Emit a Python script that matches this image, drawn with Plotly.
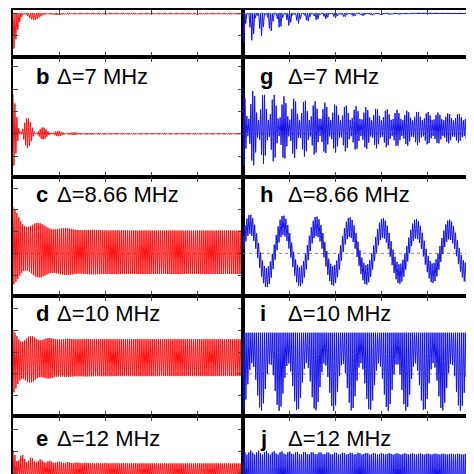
import numpy as np
import plotly.graph_objects as go

W = H = 474
panel_letters = ["a", "b", "c", "d", "e", "f", "g", "h", "i", "j"]
detunings = ["", "Δ=7 MHz", "Δ=8.66 MHz", "Δ=10 MHz", "Δ=12 MHz",
             "", "Δ=7 MHz", "Δ=8.66 MHz", "Δ=10 MHz", "Δ=12 MHz"]
colors = ["#ff1010"] * 5 + ["#1414e6"] * 5
# signal envelope parameters (per panel)
top_fixed = [0.0, None, None, None, None, 0.0, None, None, 1.9, None]
center = [0.0, 0.0, 0.05, 0.75, 1.1, 0.0, 0.25, 0.1, 0.0, 1.0]
center_tr = [0.0, 0.1, 0.3, -0.2, 0.1, 0.0, 0.0, 0.0, 0.0, 0.0]
amp_ss = [0.02, 0.02, 1.0, 0.85, 0.35, 0.0, 0.35, 0.45, 0.7, 0.85]
amp_tr = [0.85, 1.65, 0.8, 0.6, 0.5, 0.75, 1.45, 0.0, 1.1, 0.2]
tau = [0.25, 0.35, 0.5, 0.4, 0.5, 1.0, 3.0, 1.0, 1e9, 3.0]
mod_freq = [2.0, 3.0, 1.7, 2.5, 5.0, 5.0, 4.5, 1.0, 2.55, 6.0]
slow_amp = [0, 0, 0, 0, 0, 0, 0, 1.25, 0, 0]
slow_freq = [0, 0, 0, 0, 0, 0, 0, 1.39, 0, 0]
carrier = 23.7

t = np.linspace(0, 5, 6000)

rows_px = [(0, 47), (47, 168), (168, 287), (287, 408), (408, 474)]
yranges = [(-1.95, 0.15), (-1.95, 3.45), (-1.95, 3.5), (-1.95, 3.6), (0.6, 3.6)]
cols_px = [(5, 235), (235, 466)]

fig = go.Figure()
layout = dict(width=W, height=H, margin=dict(l=0, r=0, t=0, b=0),
              paper_bgcolor="white", plot_bgcolor="white", showlegend=False)
annotations = []
for k in range(10):
    col, row = divmod(k, 5)
    n = k + 1
    xs = "" if n == 1 else str(n)
    env = np.exp(-t / tau[k])
    amp = amp_ss[k] + amp_tr[k] * env * (0.5 + 0.5 * np.cos(2 * np.pi * mod_freq[k] * t))
    if top_fixed[k] is not None:
        c = top_fixed[k] - amp
    else:
        c = center[k] + center_tr[k] * env
    y = c + amp * np.cos(2 * np.pi * carrier * t)
    y = y + slow_amp[k] * np.exp(-t / 20) * np.cos(2 * np.pi * slow_freq[k] * (t - 0.15))
    fig.add_trace(go.Scatter(x=[0, 5], y=[0, 0], mode="lines", xaxis="x" + xs, yaxis="y" + xs,
                             line=dict(color="#888888", width=1, dash="dot"), hoverinfo="skip"))
    fig.add_trace(go.Scatter(x=t, y=y, mode="lines", xaxis="x" + xs, yaxis="y" + xs,
                             line=dict(color=colors[k], width=1)))
    x0, x1 = cols_px[col]
    y0, y1 = rows_px[row]
    layout["xaxis" + xs] = dict(domain=[x0 / W, x1 / W], range=[0, 5], dtick=1, ticks="inside",
                                ticklen=5, showticklabels=False, showgrid=False, zeroline=False,
                                showline=True, linecolor="black", linewidth=2, mirror="ticks",
                                anchor="y" + xs)
    layout["yaxis" + xs] = dict(domain=[1 - y1 / H, 1 - y0 / H], range=list(yranges[row]), dtick=1,
                                ticks="inside", ticklen=5, showticklabels=False, showgrid=False,
                                zeroline=False, showline=True, linecolor="black", linewidth=2,
                                mirror="ticks" if col == 0 else True,
                                side="left" if col == 0 else "right", anchor="x" + xs)
    if detunings[k]:
        yc = {1: 67, 2: 185, 3: 305, 4: 430}[row]
        lx, tx = (26, 47) if col == 0 else (250, 278)
        annotations.append(dict(xref="paper", yref="paper", x=lx / W, y=1 - yc / H, xanchor="left",
                                yanchor="middle", showarrow=False, text="<b>" + panel_letters[k] + "</b>",
                                font=dict(family="Liberation Sans, Arial", size=22, color="black")))
        annotations.append(dict(xref="paper", yref="paper", x=tx / W, y=1 - yc / H, xanchor="left",
                                yanchor="middle", showarrow=False, text=detunings[k],
                                font=dict(family="Liberation Sans, Arial", size=22, color="black")))
layout["annotations"] = annotations
fig.update_layout(**layout)
fig.write_html("out.html")
